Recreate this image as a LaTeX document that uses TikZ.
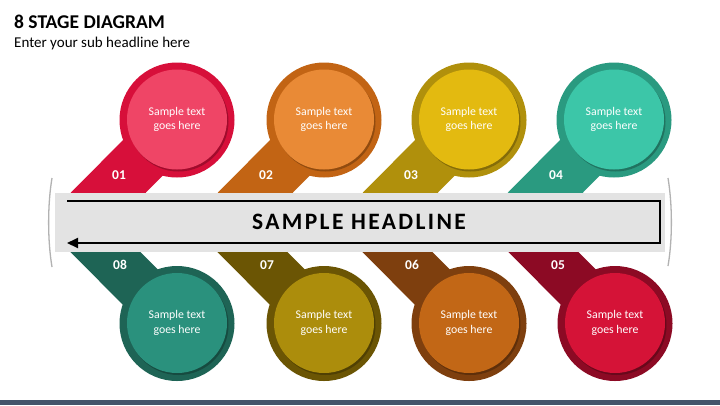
\documentclass[tikz,border=0pt]{standalone}
\usepackage{fontspec}
\setmainfont{Carlito}
\newfontfamily\headfont[LetterSpace=10]{Carlito}
\usetikzlibrary{arrows.meta}
\definecolor{oA}{HTML}{D70F3A}\definecolor{iA}{HTML}{EF4566}
\definecolor{oB}{HTML}{C26414}\definecolor{iB}{HTML}{E98A36}
\definecolor{oC}{HTML}{B0900C}\definecolor{iC}{HTML}{E3BA10}
\definecolor{oD}{HTML}{2A9A80}\definecolor{iD}{HTML}{3CC6A8}
\definecolor{oE}{HTML}{8C0A24}\definecolor{iE}{HTML}{D51337}
\definecolor{oF}{HTML}{7E3F0E}\definecolor{iF}{HTML}{C26716}
\definecolor{oG}{HTML}{6B5504}\definecolor{iG}{HTML}{AC8D0C}
\definecolor{oH}{HTML}{1E6455}\definecolor{iH}{HTML}{2A917D}
\definecolor{barg}{HTML}{E3E3E3}
\definecolor{strip}{HTML}{44546A}
\tikzset{
  outerc/.style={circle, inner sep=0pt, minimum size=115pt},
  innerc/.style={circle, inner sep=0pt, minimum size=100pt, text=white, align=center,
    font=\fontsize{11.8}{14.3}\selectfont},
  shadowc/.style={circle, inner sep=0pt, minimum size=100pt},
  numlbl/.style={text=white, font=\bfseries\fontsize{13.5}{15}\selectfont, inner sep=0pt, anchor=base},
  endcurve/.style={draw=gray!60, line width=1.3pt},
}
\begin{document}
\begin{tikzpicture}[x=1pt,y=-1pt]
\useasboundingbox (0,0) rectangle (720,405);
\fill[white] (0,0) rectangle (720,405);
\fill[strip] (0,400) rectangle (720,405);
% titles
\node[anchor=base west, inner sep=0pt, font=\bfseries\fontsize{19.5}{22}\selectfont] (title) at (14,28.5) {8 STAGE DIAGRAM};
\node[anchor=base west, inner sep=0pt, font=\fontsize{15}{18}\selectfont] (sub) at (14,47.3) {Enter your sub headline here};
% top tabs
\foreach \n/\cx/\oc in {1/177/oA,2/324/oB,3/469/oC,4/614/oD}{
  \fill[\oc] (\cx-107,193.5) -- (\cx-32,193.5) -- (\cx+28,133) -- (\cx-47,133) -- cycle;
}
% bottom tabs
\foreach \n/\cx/\oc in {8/177/oH,7/324/oG,6/469/oF,5/615/oE}{
  \fill[\oc] (\cx-107,251.5) -- (\cx-37,251.5) -- (\cx+23,312) -- (\cx-47,312) -- cycle;
}
% bar
\node[fill=barg, minimum width=610pt, minimum height=59pt, inner sep=0pt] (bar) at (360,222.5) {};
\draw[endcurve] (52,178) .. controls (47.5,205) and (47.5,240) .. (52,267);
\draw[endcurve] (668,178) .. controls (672.5,205) and (672.5,240) .. (668,266);
\coordinate (fA) at (67,201);
\coordinate (fB) at (660,201);
\coordinate (fC) at (660,243);
\coordinate (fD) at (67,243);
\draw[line width=2pt, -{Triangle[length=11pt,width=10pt]}] (fA) -- (fB) -- (fC) -- (fD);
\node[font=\headfont\bfseries\fontsize{23.5}{26}\selectfont, inner sep=0pt] (hl) at (359,221.5) {SAMPLE HEADLINE};
% top circles
\foreach \n/\cx/\oc/\ic in {1/177/oA/iA,2/324/oB/iB,3/469/oC/iC,4/614/oD/iD}{
  \node[outerc, fill=\oc] (o\n) at (\cx,120) {};
  \node[shadowc, fill=\oc!75!black] (s\n) at (\cx+1.5,121.5) {};
  \node[innerc, fill=\ic] (c\n) at (\cx,119.5) {Sample text\\goes here};
  \node[numlbl] (n\n) at (\cx-58,179.3) {0\n};
}
% bottom circles
\foreach \n/\cx/\oc/\ic in {8/177/oH/iH,7/324/oG/iG,6/469/oF/iF,5/615/oE/iE}{
  \node[outerc, fill=\oc] (o\n) at (\cx,323.5) {};
  \node[shadowc, fill=\oc!75!black] (s\n) at (\cx+1.5,325) {};
  \node[innerc, fill=\ic] (c\n) at (\cx,323) {Sample text\\goes here};
  \node[numlbl] (n\n) at (\cx-57,269.3) {0\n};
}
\end{tikzpicture}
\end{document}
